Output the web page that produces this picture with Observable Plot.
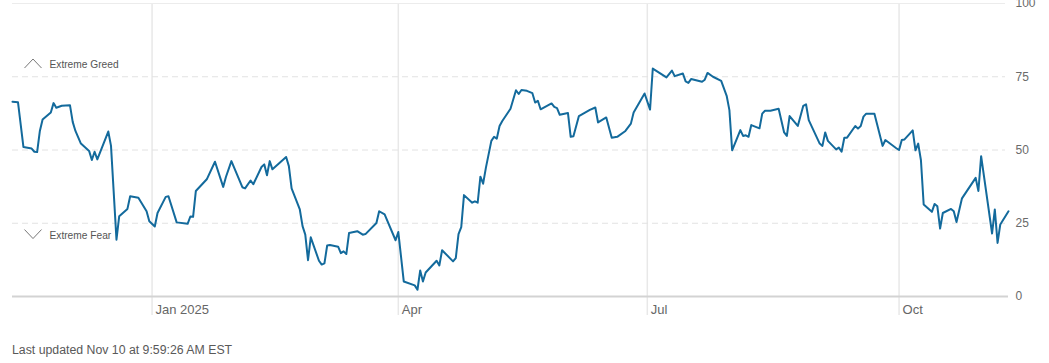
<!DOCTYPE html>
<html>
<head>
<meta charset="utf-8">
<script src="https://cdn.jsdelivr.net/npm/d3@7"></script>
<script src="https://cdn.jsdelivr.net/npm/@observablehq/plot@0.6"></script>
<style>
  html, body { margin: 0; padding: 0; background: #fff; }
  #chart { position: relative; width: 1049px; height: 363px; font-family: "Liberation Sans", Arial, sans-serif; }
  #updated { position: absolute; left: 12px; top: 342px; font-size: 12.3px; line-height: 16px; color: #595959; }
</style>
</head>
<body>
<div id="chart">
  <div id="plot"></div>
  <div id="updated">Last updated Nov 10 at 9:59:26 AM EST</div>
</div>
<script>
const dates = [
  "2024-11-11","2024-11-13","2024-11-15","2024-11-18","2024-11-19","2024-11-20","2024-11-21","2024-11-22","2024-11-25","2024-11-26","2024-11-27","2024-11-29",
  "2024-12-02","2024-12-03","2024-12-04","2024-12-06","2024-12-09","2024-12-10","2024-12-11","2024-12-12","2024-12-16","2024-12-17","2024-12-19","2024-12-20","2024-12-23","2024-12-24","2024-12-27","2024-12-30","2024-12-31",
  "2025-01-02","2025-01-03","2025-01-06","2025-01-07","2025-01-10","2025-01-14","2025-01-15","2025-01-16","2025-01-17","2025-01-21","2025-01-24","2025-01-27","2025-01-28","2025-01-30",
  "2025-02-03","2025-02-04","2025-02-06","2025-02-07","2025-02-10","2025-02-11","2025-02-12","2025-02-13","2025-02-14","2025-02-19","2025-02-20","2025-02-21","2025-02-24","2025-02-25","2025-02-26","2025-02-27","2025-02-28",
  "2025-03-03","2025-03-04","2025-03-05","2025-03-06","2025-03-07","2025-03-10","2025-03-11","2025-03-12","2025-03-13","2025-03-14","2025-03-17","2025-03-19","2025-03-20","2025-03-24","2025-03-25","2025-03-27","2025-03-31",
  "2025-04-01","2025-04-03","2025-04-07","2025-04-08","2025-04-09","2025-04-10","2025-04-11","2025-04-15","2025-04-16","2025-04-17","2025-04-21","2025-04-22","2025-04-23","2025-04-24","2025-04-25","2025-04-28","2025-04-29","2025-04-30",
  "2025-05-01","2025-05-02","2025-05-03","2025-05-05","2025-05-06","2025-05-07","2025-05-08","2025-05-09","2025-05-12","2025-05-14","2025-05-15","2025-05-16","2025-05-18","2025-05-20","2025-05-21","2025-05-22","2025-05-23","2025-05-27","2025-05-28","2025-05-29","2025-05-30",
  "2025-06-02","2025-06-03","2025-06-04","2025-06-06","2025-06-10","2025-06-12","2025-06-13","2025-06-16","2025-06-18","2025-06-20","2025-06-23","2025-06-25","2025-06-26","2025-06-30",
  "2025-07-02","2025-07-03","2025-07-08","2025-07-10","2025-07-11","2025-07-14","2025-07-15","2025-07-16","2025-07-17","2025-07-21","2025-07-22","2025-07-23","2025-07-25","2025-07-28","2025-07-30","2025-07-31",
  "2025-08-01","2025-08-04","2025-08-05","2025-08-06","2025-08-07","2025-08-08","2025-08-11","2025-08-12","2025-08-13","2025-08-15","2025-08-18","2025-08-20","2025-08-21","2025-08-22","2025-08-25","2025-08-27","2025-08-28","2025-08-29",
  "2025-09-02","2025-09-03","2025-09-04","2025-09-05","2025-09-08","2025-09-09","2025-09-10","2025-09-11","2025-09-12","2025-09-15","2025-09-16","2025-09-17","2025-09-18","2025-09-19","2025-09-22","2025-09-25","2025-09-26","2025-09-30",
  "2025-10-01","2025-10-02","2025-10-03","2025-10-06","2025-10-07","2025-10-08","2025-10-09","2025-10-10","2025-10-13","2025-10-14","2025-10-15","2025-10-16","2025-10-17","2025-10-20","2025-10-21","2025-10-22","2025-10-24","2025-10-29","2025-10-30","2025-10-31",
  "2025-11-04","2025-11-05","2025-11-06","2025-11-07","2025-11-10"
];
const values = [
  66.5,66.3,51.0,50.5,49.4,49.3,56.5,60.4,62.8,66.0,64.4,65.1,
  65.3,59.6,56.5,52.2,49.7,46.6,49.4,46.8,56.3,51.4,19.4,27.4,29.9,34.2,33.7,29.1,25.7,
  23.9,28.5,34.0,34.2,25.3,24.8,27.3,27.2,36.0,40.0,46.0,37.4,40.8,46.2,
  37.3,36.9,39.6,38.3,44.2,45.1,41.4,46.2,43.4,47.6,44.5,36.9,29.7,24.0,21.1,12.4,20.2,
  12.2,10.9,11.3,17.4,17.6,17.0,14.8,15.4,14.5,21.7,22.3,21.1,21.3,25.1,29.1,28.0,19.2,
  22.0,5.1,3.8,2.3,8.9,5.1,8.2,12.2,10.6,15.8,12.0,13.1,21.3,23.7,34.6,32.0,32.5,32.0,
  40.9,38.5,43.9,53.1,54.5,53.9,58.2,59.9,64.1,70.4,69.1,70.5,70.2,69.4,66.2,66.8,63.9,65.9,64.7,64.3,62.0,
  62.6,54.5,54.7,61.6,63.7,64.5,59.4,61.1,54.2,54.5,56.5,59.0,62.8,69.3,
  63.8,77.8,74.8,77.1,75.2,76.1,73.4,72.9,74.2,73.3,74.0,76.3,75.0,73.6,68.5,63.6,
  49.9,56.8,54.8,55.0,54.5,58.5,57.4,62.4,63.4,63.4,64.1,56.0,54.8,61.6,58.2,65.1,65.6,60.2,
  52.2,51.4,56.0,53.1,50.2,50.8,49.4,54.2,54.2,58.2,57.3,58.2,61.4,62.4,62.4,51.4,53.4,50.6,
  50.0,53.4,53.6,56.7,49.9,52.2,46.5,31.4,28.9,31.6,30.8,23.2,28.5,29.9,29.1,25.4,33.5,40.5,36.0,47.9,
  21.5,29.7,18.3,24.6,29.1
];
const monthTicks = ["2025-01-01","2025-04-01","2025-07-01","2025-10-01"];
const yTicks = [0, 25, 50, 75, 100];
const gridValues = [25, 50, 75];
const zoneLabels = ["Extreme Greed", "Extreme Fear"];
const zoneValues = [79, 20.8];
const zoneDirs = ["up", "down"];

const data = dates.map((d, i) => ({date: new Date(d), value: values[i]}));
const tickDates = monthTicks.map(d => new Date(d));
const zones = zoneLabels.map((label, i) => ({label, value: zoneValues[i], dir: zoneDirs[i]}));

function chevrons(index, scales, values, dimensions) {
  const g = d3.create("svg:g").attr("fill", "none").attr("stroke", "#777").attr("stroke-width", 1);
  for (const z of zones) {
    const y = scales.y(z.value) - 1;
    const x0 = dimensions.marginLeft + 12.5;
    const s = z.dir === "up" ? 1 : -1;
    g.append("path").attr("d", `M${x0},${y + 4.5 * s}L${x0 + 8.5},${y - 4.5 * s}L${x0 + 17},${y + 4.5 * s}`);
  }
  return g.node();
}

const fmtYear = d3.utcFormat("%b %Y"), fmtMonth = d3.utcFormat("%b");

const chart = Plot.plot({
  width: 1049,
  height: 325,
  marginTop: 3,
  marginBottom: 29,
  marginLeft: 12,
  marginRight: 41,
  style: {fontFamily: "'Liberation Sans', Arial, sans-serif", fontSize: "12px", background: "#fff", overflow: "visible"},
  x: {type: "utc", domain: [data[0].date, data[data.length - 1].date]},
  y: {domain: [0, 100]},
  marks: [
    Plot.ruleX(tickDates, {stroke: "#e8e8e8", strokeWidth: 1.5, insetBottom: -19}),
    Plot.ruleY(gridValues, {stroke: "#e2e2e2", strokeDasharray: "6,4", insetRight: 3}),
    Plot.ruleY([100], {stroke: "#ececec", insetRight: 3}),
    Plot.ruleY([0], {stroke: "#d3d3d3", strokeWidth: 2}),
    Plot.axisX({ticks: tickDates, tickSize: 0, tickPadding: 8, textAnchor: "start", dx: 3.5, fontSize: 13, fill: "#666",
      tickFormat: d => d.getUTCMonth() === 0 ? fmtYear(d) : fmtMonth(d), label: null}),
    Plot.axisY({anchor: "right", ticks: yTicks, tickSize: 0, tickPadding: 7, fontSize: 12, fill: "#6a6a6a", label: null}),
    Plot.text(zones, {y: "value", text: "label", frameAnchor: "left", dx: 37, textAnchor: "start", fontSize: 10.2, fill: "#555"}),
    chevrons,
    Plot.line(data, {x: "date", y: "value", stroke: "#136a9c", strokeWidth: 2, strokeLinejoin: "round"})
  ]
});
document.getElementById("plot").appendChild(chart);
</script>
</body>
</html>
